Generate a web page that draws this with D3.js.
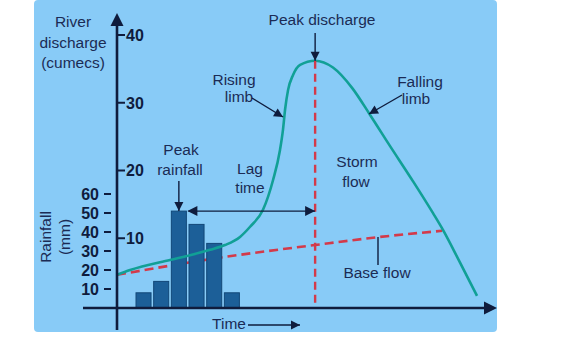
<!DOCTYPE html>
<html><head><meta charset="utf-8">
<script src="https://cdn.jsdelivr.net/npm/d3@7"></script>
<style>
html,body{margin:0;padding:0;background:#fff;}
svg{display:block;font-family:"Liberation Sans",Arial,sans-serif;}
</style></head>
<body>
<svg id="c" width="567" height="357"></svg>
<script>
// ---- data ----
const rainTimes = [1.5, 2.5, 3.5, 4.5, 5.5, 6.5];
const rainfall  = [8, 14, 51, 44, 34, 8];
const rainTicks = [10, 20, 30, 40, 50, 60];
const dischargeTicks = [10, 20, 30, 40];
const hydroTimes = [0, 0.74, 3.0, 4.13, 5.26, 6.11, 6.96, 7.53, 8.26, 8.83, 9.22, 9.39, 9.51, 9.68, 9.96, 10.36, 11.21, 12.22, 13.3, 14.32, 15.45, 16.75, 17.88, 18.45, 19.41, 20.37];
const hydroQ     = [4.6, 5.3, 6.8, 7.5, 8.3, 9.0, 10.2, 11.7, 14.2, 18.6, 23.0, 26.0, 29.0, 31.9, 34.1, 35.6, 36.2, 35.2, 32.2, 28.2, 23.6, 18.4, 13.7, 11.2, 6.4, 1.5];
const baseTimes = [0, 6.0, 11.2, 14.9, 18.4];
const baseQ     = [4.6, 7.2, 9.0, 10.2, 11.1];
const peakTime = 11.21, peakQ = 36.2;

const svg = d3.select("#c");
const x  = d3.scaleLinear().domain([0, 21.5]).range([117, 497]);
const yQ = d3.scaleLinear().domain([0, 40]).range([306, 35]);
const yR = d3.scaleLinear().domain([0, 60]).range([308, 194]);

const navy = "#0f1c3d", txt = "#1b2b55", red = "#d33a4a", teal = "#11a096";

// background
svg.append("rect").attr("x",34).attr("y",0).attr("width",463).attr("height",332).attr("rx",4).attr("fill","#88cbf7");

function arrowHead(x1,y1,x2,y2,len,wid){
  const a=Math.atan2(y2-y1,x2-x1), c=Math.cos(a), s=Math.sin(a);
  const bx=x2-len*c, by=y2-len*s;
  svg.append("path").attr("d",`M${x2},${y2}L${bx-wid*s},${by+wid*c}L${bx+wid*s},${by-wid*c}Z`).attr("fill",navy);
}
function arrow(x1,y1,x2,y2){
  svg.append("line").attr("x1",x1).attr("y1",y1).attr("x2",x2).attr("y2",y2).attr("stroke",navy).attr("stroke-width",1.4);
  arrowHead(x1,y1,x2,y2,9,4.5);
}

// base flow (behind bars)
const baseLine = d3.line().x((d,i)=>x(baseTimes[i])).y((d,i)=>yQ(baseQ[i])).curve(d3.curveMonotoneX);
svg.append("path").datum(baseQ).attr("d",baseLine).attr("fill","none").attr("stroke",red).attr("stroke-width",2.6).attr("stroke-dasharray","9,5");

// bars
const bw = x(0.85)-x(0);
svg.selectAll("rect.bar").data(rainfall).enter().append("rect").attr("class","bar")
  .attr("x",(d,i)=>x(rainTimes[i])-bw/2).attr("width",bw)
  .attr("y",d=>yR(d)).attr("height",d=>yR(0)-yR(d))
  .attr("fill","#1c5f98").attr("stroke","#124878").attr("stroke-width",1);

// hydrograph
const hydro = d3.line().x((d,i)=>x(hydroTimes[i])).y((d,i)=>yQ(hydroQ[i])).curve(d3.curveMonotoneX);
svg.append("path").datum(hydroQ).attr("d",hydro).attr("fill","none").attr("stroke",teal).attr("stroke-width",2.6);

// peak vertical dashed
svg.append("line").attr("x1",x(peakTime)).attr("x2",x(peakTime)).attr("y1",yQ(peakQ)).attr("y2",yR(0))
  .attr("stroke",red).attr("stroke-width",2.4).attr("stroke-dasharray","8,5");

// axes
svg.append("line").attr("x1",x(0)).attr("x2",x(0)).attr("y1",22).attr("y2",330).attr("stroke",navy).attr("stroke-width",2.6);
arrowHead(x(0),40,x(0),13,13,6.5);
svg.append("line").attr("x1",83).attr("x2",488).attr("y1",yR(0)).attr("y2",yR(0)).attr("stroke",navy).attr("stroke-width",2.6);
arrowHead(470,yR(0),497,yR(0),13,6.5);

// discharge ticks
const dq = svg.append("g");
dischargeTicks.forEach(t=>{
  dq.append("line").attr("x1",x(0)).attr("x2",x(0)+8).attr("y1",yQ(t)).attr("y2",yQ(t)).attr("stroke",navy).attr("stroke-width",2);
  dq.append("text").attr("x",x(0)+9).attr("y",yQ(t)).attr("dy","0.36em").attr("font-size",16).attr("font-weight","bold").attr("fill",navy).text(t);
});
// rainfall ticks
rainTicks.forEach(t=>{
  dq.append("line").attr("x1",104).attr("x2",111).attr("y1",yR(t)).attr("y2",yR(t)).attr("stroke",navy).attr("stroke-width",2);
  dq.append("text").attr("x",99).attr("y",yR(t)).attr("dy","0.36em").attr("text-anchor","end").attr("font-size",16).attr("font-weight","bold").attr("fill",navy).text(t);
});

function label(tx,ty,s,anchor){
  svg.append("text").attr("x",tx).attr("y",ty).attr("text-anchor",anchor||"middle").attr("font-size",15.5).attr("fill",txt).text(s);
}
label(73,27,"River"); label(73,48,"discharge"); label(73,68,"(cumecs)");
svg.append("text").attr("transform","translate(51,237) rotate(-90)").attr("text-anchor","middle").attr("font-size",15.5).attr("fill",txt).text("Rainfall");
svg.append("text").attr("transform","translate(70,237) rotate(-90)").attr("text-anchor","middle").attr("font-size",15.5).attr("fill",txt).text("(mm)");

label(322,25,"Peak discharge");
arrow(x(peakTime),33,x(peakTime),yQ(peakQ));

label(234,85,"Rising"); label(239,102,"limb");
arrow(252,98,283,117);
label(420,87,"Falling"); label(416,104,"limb");
arrow(402,95,369,114);

label(181,155,"Peak"); label(180,175,"rainfall");
arrow(x(rainTimes[2]),181,x(rainTimes[2]),yR(rainfall[2]));

label(250,174,"Lag"); label(250,193,"time");
const lagY = yR(rainfall[2]);
svg.append("line").attr("x1",x(rainTimes[2])+bw/2+2).attr("x2",x(peakTime)).attr("y1",lagY).attr("y2",lagY).attr("stroke",navy).attr("stroke-width",1.4);
arrowHead(x(peakTime),lagY,x(rainTimes[2])+bw/2+1,lagY,10,5);
arrowHead(x(rainTimes[2]),lagY,x(peakTime),lagY,10,5);

label(357,167,"Storm"); label(356,187,"flow");

label(377,278,"Base flow");
svg.append("line").attr("x1",378).attr("x2",378).attr("y1",237).attr("y2",265).attr("stroke",navy).attr("stroke-width",1.4);

label(229,329,"Time");
arrow(248,325,300,325);
</script>
</body></html>
